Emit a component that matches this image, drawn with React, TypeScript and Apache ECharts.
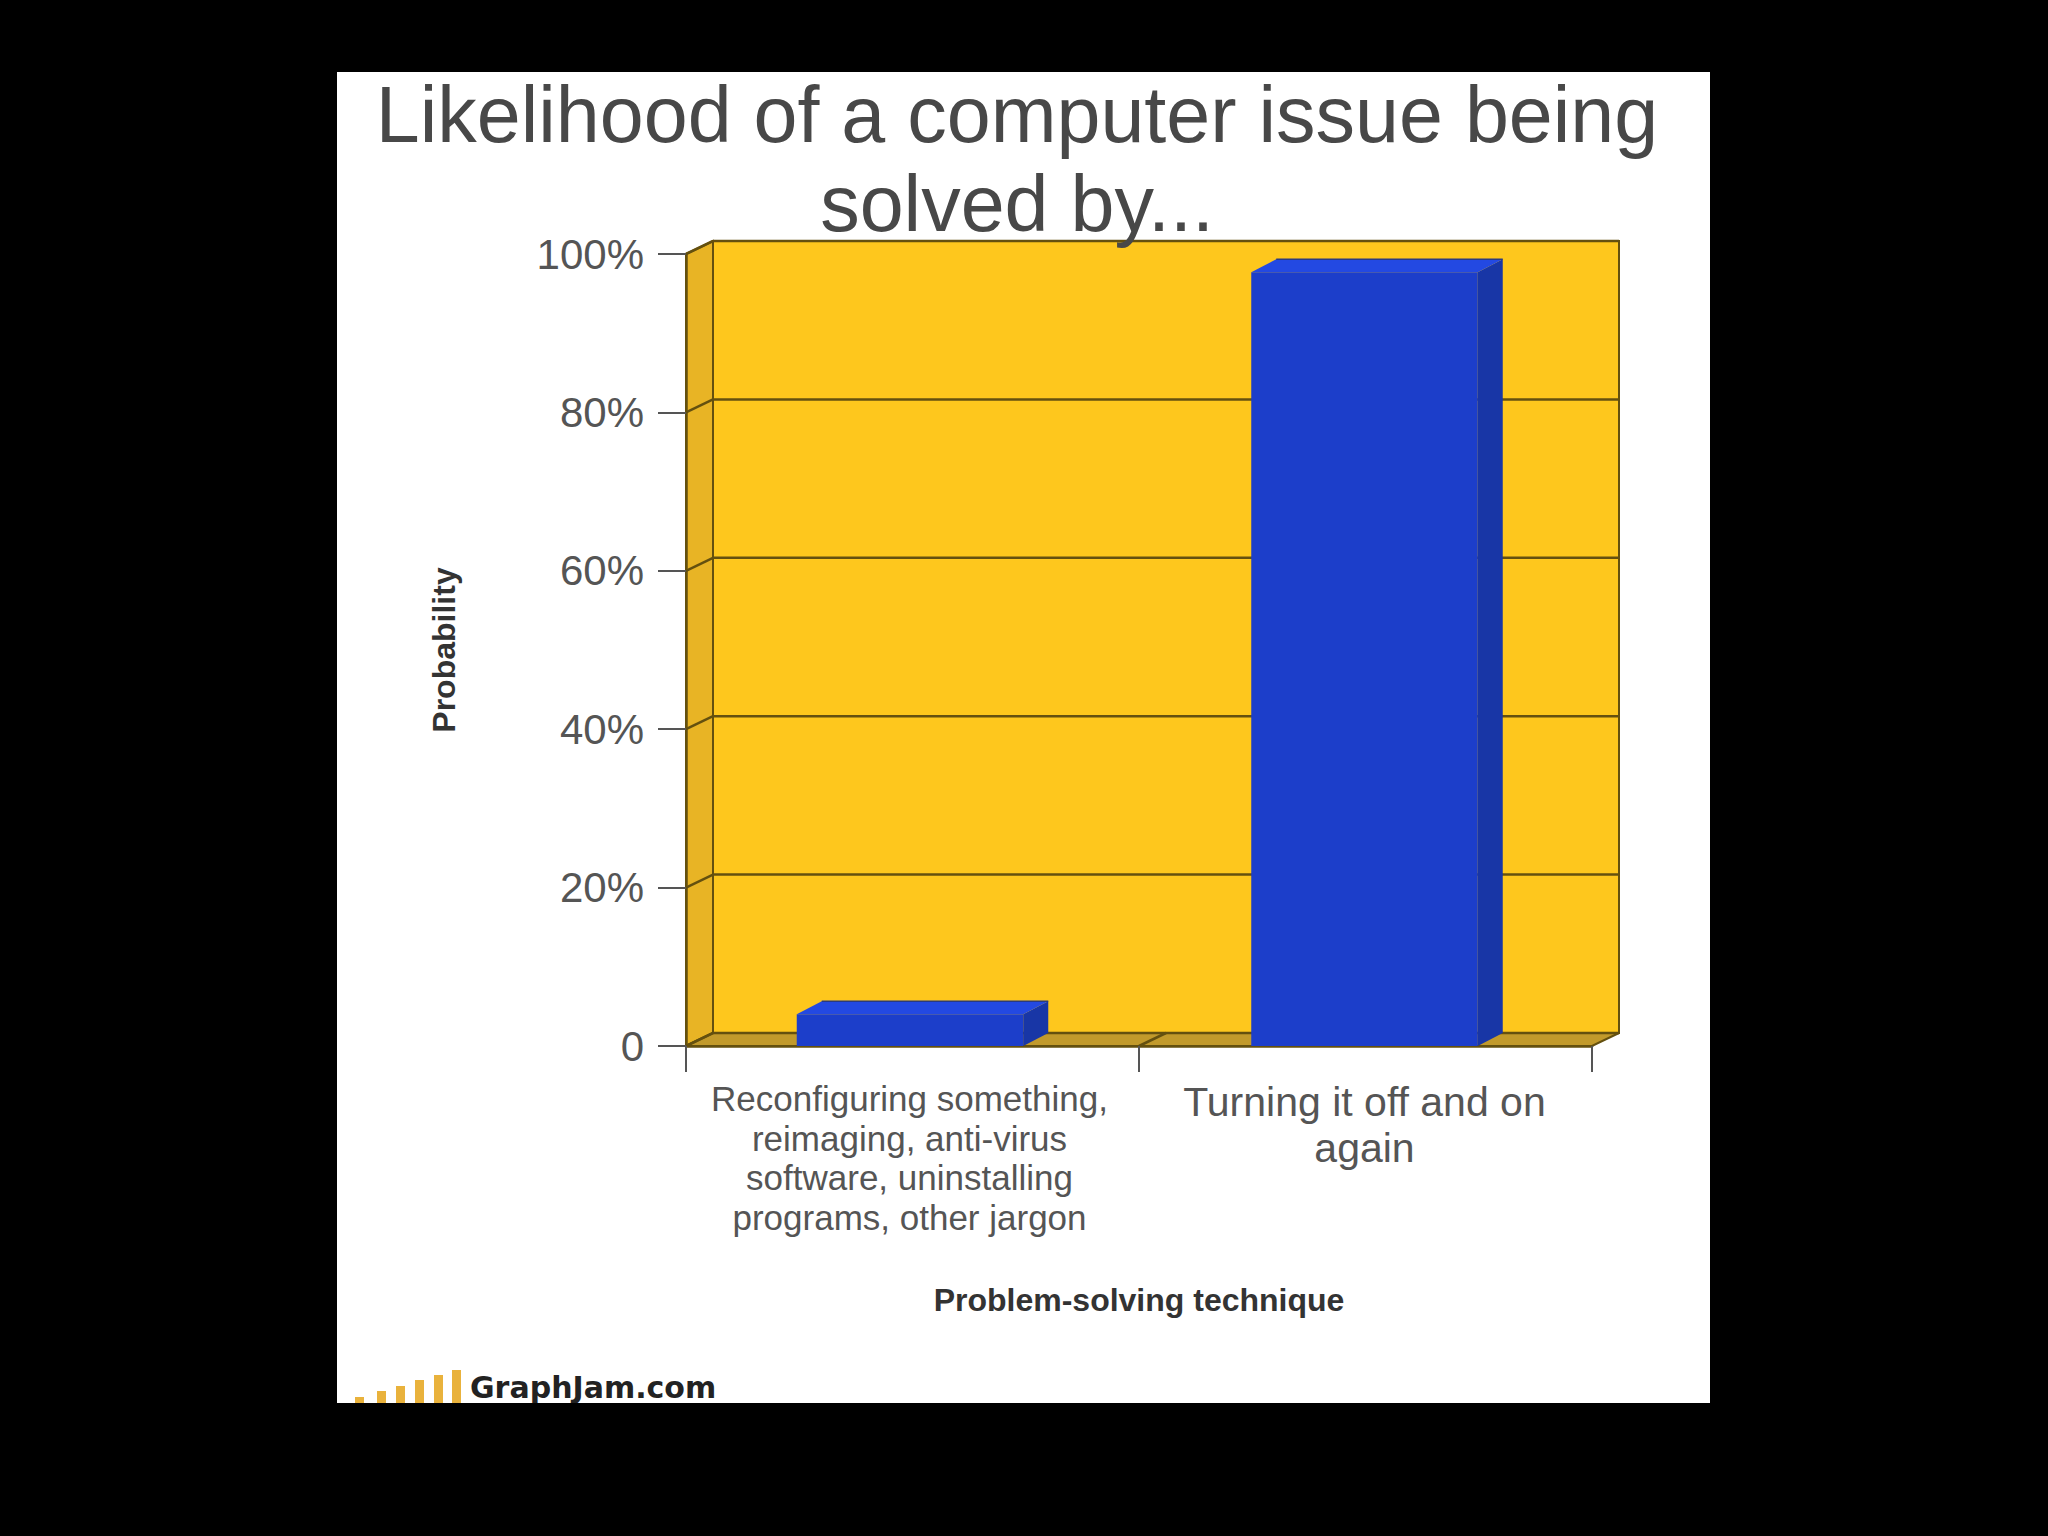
import React, { useEffect, useRef } from "react";
import * as echarts from "echarts";

const titleLines = ["Likelihood of a computer issue being", "solved by..."];
const categories = [
  "Reconfiguring something,\nreimaging, anti-virus\nsoftware, uninstalling\nprograms, other jargon",
  "Turning it off and on\nagain",
];
const probability = [4, 97.7];
const yTicks = [0, 20, 40, 60, 80, 100];
const yName = "Probability";
const xName = "Problem-solving technique";
const brand = "GraphJam.com";
const logoBars = [
  [355, 1397],
  [377, 1391],
  [396, 1386],
  [415, 1380],
  [434, 1375],
  [452, 1370],
];

const DX = 27;
const DY = 13;
const WALL = "#FEC71D";
const SIDE = "#E8B425";
const FLOOR = "#C29A2B";
const EDGE = "#64500F";

function poly(points: number[][], fill: string, stroke?: string, lineWidth = 2) {
  return {
    type: "polygon",
    shape: { points },
    style: { fill, stroke: stroke || "none", lineWidth: stroke ? lineWidth : 0 },
  };
}
function seg(a: number[], b: number[], stroke = EDGE, lineWidth = 2.5) {
  return {
    type: "line",
    shape: { x1: a[0], y1: a[1], x2: b[0], y2: b[1] },
    style: { stroke, lineWidth },
  };
}

function renderWalls(_: any, api: any) {
  const band = api.size([1, 0])[0];
  const x0 = api.coord([0, 0])[0] - band / 2;
  const xMid = x0 + band;
  const x1 = x0 + 2 * band;
  const y0 = api.coord([0, 0])[1];
  const yT = api.coord([0, 100])[1];
  const children: any[] = [
    poly([[x0 + DX, yT - DY], [x1 + DX, yT - DY], [x1 + DX, y0 - DY], [x0 + DX, y0 - DY]], WALL, EDGE),
    poly([[x0, yT], [x0 + DX, yT - DY], [x0 + DX, y0 - DY], [x0, y0]], SIDE, EDGE),
    poly([[x0, y0], [x0 + DX, y0 - DY], [x1 + DX, y0 - DY], [x1, y0]], FLOOR, EDGE),
    seg([xMid, y0], [xMid + DX, y0 - DY]),
  ];
  yTicks.forEach((v) => {
    const y = api.coord([0, v])[1];
    children.push(seg([x0, y], [x0 + DX, y - DY]));
    children.push(seg([x0 + DX, y - DY], [x1 + DX, y - DY]));
  });
  return { type: "group", children };
}

function renderBar(_: any, api: any) {
  const band = api.size([1, 0])[0];
  const w = band * 0.5;
  const nudge = api.value(0) === 0 ? -2.5 : -1;
  const c = api.coord([api.value(0), api.value(1)]);
  const base = api.coord([api.value(0), 0]);
  const l = c[0] - w / 2 + nudge;
  const r = c[0] + w / 2 + nudge;
  const t = c[1];
  const b = base[1];
  const d = DX - 2;
  return {
    type: "group",
    children: [
      poly([[l, t], [r, t], [r, b], [l, b]], "#1C3ECA"),
      poly([[r, t], [r + d, t - DY], [r + d, b - DY], [r, b]], "#1836A6"),
      poly([[l, t], [l + d, t - DY], [r + d, t - DY], [r, t]], "#2349E2"),
      seg([l + d, t - DY], [r + d, t - DY], "#2A3A80", 1.5),
    ],
  };
}

export default function App() {
  const ref = useRef<HTMLDivElement>(null);
  useEffect(() => {
    document.body.style.margin = "0";
    document.body.style.background = "#000";
    const chart = echarts.init(ref.current!, undefined, { renderer: "svg" });
    const font = "'Liberation Sans', Arial, sans-serif";
    chart.setOption({
      animation: false,
      backgroundColor: "#000",
      title: {
        text: titleLines.join("\n"),
        left: 1017,
        top: 70,
        padding: 0,
        textAlign: "center",
        textStyle: {
          fontFamily: font,
          fontSize: 79,
          fontWeight: "normal",
          color: "#484848",
          lineHeight: 89,
        },
      },
      grid: { left: 686, top: 254, width: 906, height: 792, containLabel: false },
      xAxis: {
        type: "category",
        z: 3,
        data: [
          { value: categories[0], textStyle: { fontSize: 35, lineHeight: 39.5, padding: [0, 6, 0, 0] } },
          { value: categories[1], textStyle: { fontSize: 41, lineHeight: 46, padding: [0, 2, 0, 0] } },
        ],
        name: xName,
        nameLocation: "middle",
        nameGap: 238,
        nameTextStyle: { fontFamily: font, fontWeight: "bold", fontSize: 32, color: "#333" },
        axisLine: { lineStyle: { color: EDGE, width: 2.5 } },
        axisTick: { show: true, length: 26, lineStyle: { color: "#555", width: 2 } },
        axisLabel: { interval: 0, margin: 33, fontFamily: font, color: "#555" },
      },
      yAxis: {
        type: "value",
        z: 3,
        min: 0,
        max: 100,
        interval: 20,
        name: yName,
        nameLocation: "middle",
        nameGap: 226,
        nameRotate: 90,
        nameTextStyle: { fontFamily: font, fontWeight: "bold", fontSize: 32, color: "#333" },
        axisLine: { show: true, lineStyle: { color: EDGE, width: 2.5 } },
        axisTick: { show: true, length: 28, lineStyle: { color: "#555", width: 2 } },
        axisLabel: {
          margin: 42,
          padding: [0, 0, 5, 0],
          fontFamily: font,
          fontSize: 42,
          color: "#555",
          formatter: (v: number) => (v === 0 ? "0" : v + "%"),
        },
        splitLine: { show: false },
      },
      series: [
        {
          type: "custom",
          z: 1,
          silent: true,
          renderItem: renderWalls,
          encode: { x: 0, y: 1 },
          data: [[0, 0]],
        },
        {
          type: "custom",
          z: 4,
          silent: true,
          renderItem: renderBar,
          encode: { x: 0, y: 1 },
          data: probability.map((v, i) => [i, v]),
        },
      ],
      graphic: [
        {
          type: "rect",
          z: -10,
          shape: { x: 337, y: 72, width: 1373, height: 1331 },
          style: { fill: "#fff" },
        },
        ...logoBars.map(([x, y]) => ({
          type: "rect",
          z: 50,
          shape: { x, y, width: 9, height: 1410 - y },
          style: { fill: "#E9B23C" },
        })),
        {
          type: "text",
          z: 50,
          x: 470,
          y: 1387,
          style: {
            text: brand,
            fontFamily: "'DejaVu Sans', sans-serif",
            fontWeight: "bold",
            fontSize: 30,
            fill: "#222",
            verticalAlign: "middle",
          },
        },
        {
          type: "rect",
          z: 60,
          shape: { x: 337, y: 1403, width: 1373, height: 30 },
          style: { fill: "#000" },
        },
      ],
    });
    return () => chart.dispose();
  }, []);
  return <div ref={ref} style={{ width: 2048, height: 1536, position: "absolute", left: 0, top: 0 }} />;
}
